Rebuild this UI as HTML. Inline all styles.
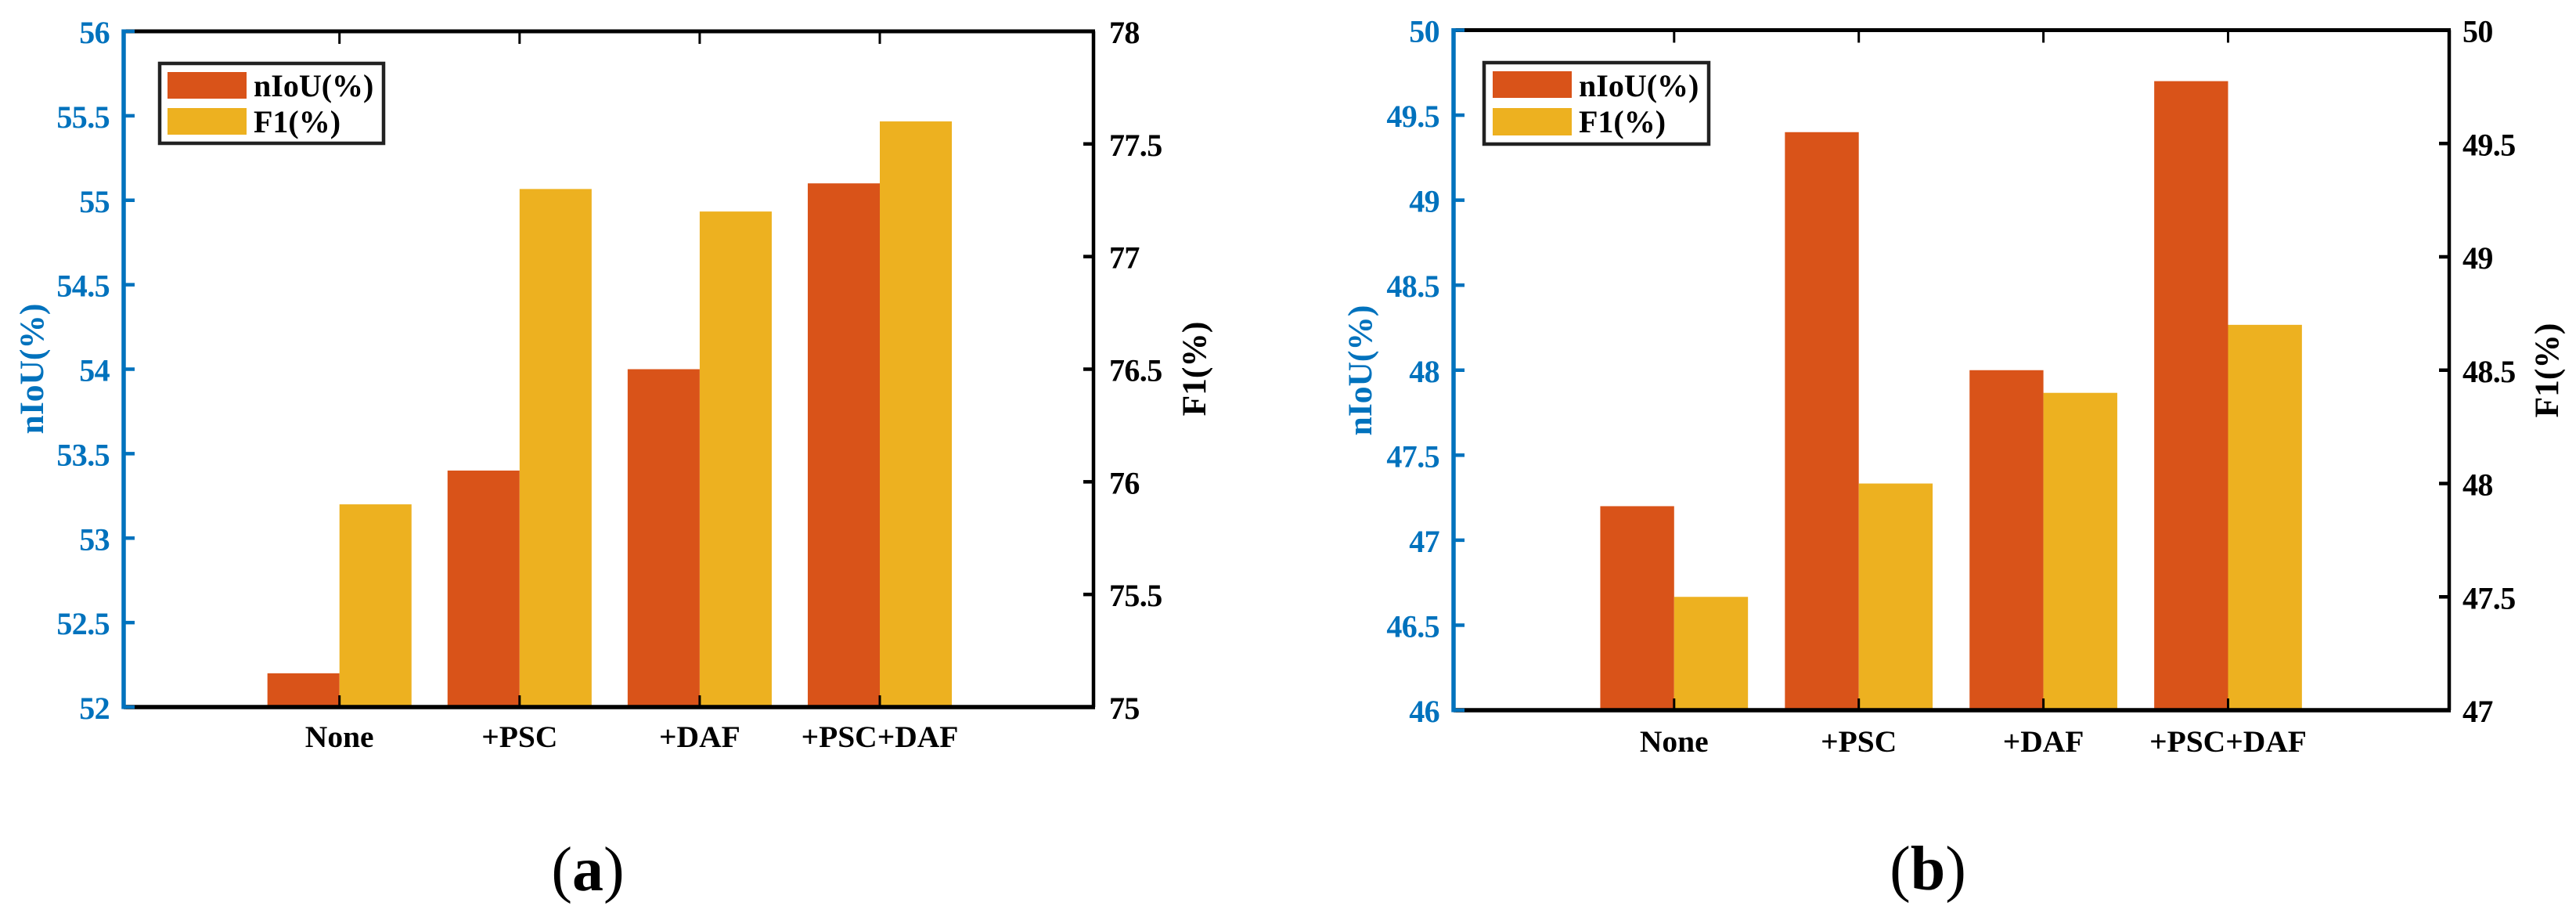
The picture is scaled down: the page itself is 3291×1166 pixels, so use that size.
<!DOCTYPE html>
<html lang="en">
<head>
<meta charset="utf-8">
<title>nIoU and F1 comparison charts</title>
<style>
  html, body { margin: 0; padding: 0; background: #fff; }
  body { width: 3291px; height: 1166px; overflow: hidden; }
  svg { display: block; }
  text { font-family: "Liberation Serif", "Times New Roman", serif; font-weight: 700; }
  .tick { font-size: 40px; letter-spacing: -0.6px; }
  .cat { font-size: 39.5px; fill: #000; text-anchor: middle; }
  .legend-text { font-size: 40px; fill: #000; }
  .axis-title { font-size: 43.5px; text-anchor: middle; }
  .caption { font-size: 80px; fill: #000; text-anchor: middle; font-weight: 400; }
  .caption tspan { font-weight: 700; }
</style>
</head>
<body>
<svg id="figure" xmlns="http://www.w3.org/2000/svg" width="3291" height="1166" viewBox="0 0 3291 1166">
  <rect x="0" y="0" width="3291" height="1166" fill="#ffffff"/>
  <g id="panel-a"></g>
  <g id="panel-b"></g>

  <g>
    <rect x="204" y="81" width="286" height="102" fill="#fff" stroke="#222" stroke-width="4.5"/>
    <rect x="214" y="92" width="101" height="34" fill="#D95319"/>
    <rect x="214" y="138" width="101" height="34" fill="#EDB120"/>
    <text class="legend-text" x="324" y="123">nIoU(%)</text>
    <text class="legend-text" x="324" y="169">F1(%)</text>
  </g>
  <g>
    <rect x="1896" y="80" width="287" height="104" fill="#fff" stroke="#222" stroke-width="4.5"/>
    <rect x="1907" y="91" width="101" height="34" fill="#D95319"/>
    <rect x="1907" y="138" width="101" height="35" fill="#EDB120"/>
    <text class="legend-text" x="2017" y="123">nIoU(%)</text>
    <text class="legend-text" x="2017" y="169">F1(%)</text>
  </g>

  <text class="axis-title" fill="#0072BD" transform="translate(55 471) rotate(-90)">nIoU(%)</text>
  <text class="axis-title" fill="#000" transform="translate(1540 471) rotate(-90)">F1(%)</text>
  <text class="axis-title" fill="#0072BD" transform="translate(1752 473) rotate(-90)">nIoU(%)</text>
  <text class="axis-title" fill="#000" transform="translate(3268 473) rotate(-90)">F1(%)</text>

  <text class="caption" x="751" y="1137">(<tspan>a</tspan>)</text>
  <text class="caption" x="2463" y="1136">(<tspan>b</tspan>)</text>
</svg>

<script>
const categories = ['None', '+PSC', '+DAF', '+PSC+DAF'];

const panelANiou = [52.2, 53.4, 54, 55.1];
const panelAF1 = [75.9, 77.3, 77.2, 77.6];
const panelALeftTicks = ['52', '52.5', '53', '53.5', '54', '54.5', '55', '55.5', '56'];
const panelARightTicks = ['75', '75.5', '76', '76.5', '77', '77.5', '78'];

const panelBNiou = [47.2, 49.4, 48, 49.7];
const panelBF1 = [47.5, 48, 48.4, 48.7];
const panelBLeftTicks = ['46', '46.5', '47', '47.5', '48', '48.5', '49', '49.5', '50'];
const panelBRightTicks = ['47', '47.5', '48', '48.5', '49', '49.5', '50'];

const SVG_NS = 'http://www.w3.org/2000/svg';
const ORANGE = '#D95319';
const YELLOW = '#EDB120';
const BLUE = '#0072BD';

function make(tag, parent, attrs) {
  const node = document.createElementNS(SVG_NS, tag);
  for (const key in attrs) node.setAttribute(key, attrs[key]);
  parent.appendChild(node);
  return node;
}

function makeScale(domainMin, domainMax, rangeBottom, rangeTop) {
  return function (value) {
    return rangeBottom + (value - domainMin) / (domainMax - domainMin) * (rangeTop - rangeBottom);
  };
}

function drawPanel(panel) {
  const root = document.getElementById(panel.id);
  const { left, right, top, bottom, firstCategoryX, categoryStep } = panel;
  const barWidth = categoryStep * 0.4;

  const leftNums = panel.leftTicks.map(Number);
  const rightNums = panel.rightTicks.map(Number);
  const yLeft = makeScale(leftNums[0], leftNums[leftNums.length - 1], bottom, top);
  const yRight = makeScale(rightNums[0], rightNums[rightNums.length - 1], bottom, top);
  const xCat = function (index) { return firstCategoryX + index * categoryStep; };

  categories.forEach(function (name, i) {
    const niouY = yLeft(panel.niou[i]);
    const niouBar = make('rect', root, { x: xCat(i) - barWidth, y: niouY, width: barWidth, height: bottom - niouY, fill: ORANGE });
    
    

    const f1Y = yRight(panel.f1[i]);
    const f1Bar = make('rect', root, { x: xCat(i), y: f1Y, width: barWidth, height: bottom - f1Y, fill: YELLOW });
    
    
  });

  const topLine = make('line', root, { x1: left, x2: right + 2, y1: top, y2: top, stroke: '#000', 'stroke-width': 5 });
  
  

  const bottomLine = make('line', root, { x1: left, x2: right + 2, y1: bottom, y2: bottom, stroke: '#000', 'stroke-width': 5.5 });
  
  

  const rightLine = make('line', root, { x1: right, x2: right, y1: top, y2: bottom, stroke: '#000', 'stroke-width': 4.5 });
  
  

  const leftLine = make('line', root, { x1: left, x2: left, y1: top - 2.5, y2: bottom + 2.5, stroke: BLUE, 'stroke-width': 5.5 });
  
  

  categories.forEach(function (name, i) {
    const x = xCat(i);
    const bottomTick = make('line', root, { x1: x, x2: x, y1: bottom, y2: bottom - 15, stroke: '#000', 'stroke-width': 3 });
    
    

    const topTick = make('line', root, { x1: x, x2: x, y1: top, y2: top + 16, stroke: '#000', 'stroke-width': 3 });
    
    

    const label = make('text', root, { class: 'cat', x: x, y: panel.categoryBaseline });
    
    
    label.textContent = name;
  });

  panel.leftTicks.forEach(function (tick) {
    const y = yLeft(Number(tick));
    const mark = make('line', root, { x1: left, x2: left + 14, y1: y, y2: y, stroke: BLUE, 'stroke-width': 4.5 });
    
    

    const label = make('text', root, { class: 'tick', x: panel.leftLabelX, y: y + 15, fill: BLUE, 'text-anchor': 'end' });
    
    
    label.textContent = tick;
  });

  panel.rightTicks.forEach(function (tick) {
    const y = yRight(Number(tick));
    const mark = make('line', root, { x1: right, x2: right - 13, y1: y, y2: y, stroke: '#000', 'stroke-width': 4.5 });
    
    

    const label = make('text', root, { class: 'tick', x: panel.rightLabelX, y: y + 15, fill: '#000' });
    
    
    label.textContent = tick;
  });
}

drawPanel({
  id: 'panel-a', left: 158, right: 1397, top: 40, bottom: 903,
  firstCategoryX: 433.7, categoryStep: 230.1, categoryBaseline: 954,
  leftLabelX: 140, rightLabelX: 1417,
  niou: panelANiou, f1: panelAF1, leftTicks: panelALeftTicks, rightTicks: panelARightTicks
});

drawPanel({
  id: 'panel-b', left: 1857, right: 3129, top: 38.5, bottom: 907,
  firstCategoryX: 2138.8, categoryStep: 235.9, categoryBaseline: 960,
  leftLabelX: 1839, rightLabelX: 3146,
  niou: panelBNiou, f1: panelBF1, leftTicks: panelBLeftTicks, rightTicks: panelBRightTicks
});
</script>
</body>
</html>
